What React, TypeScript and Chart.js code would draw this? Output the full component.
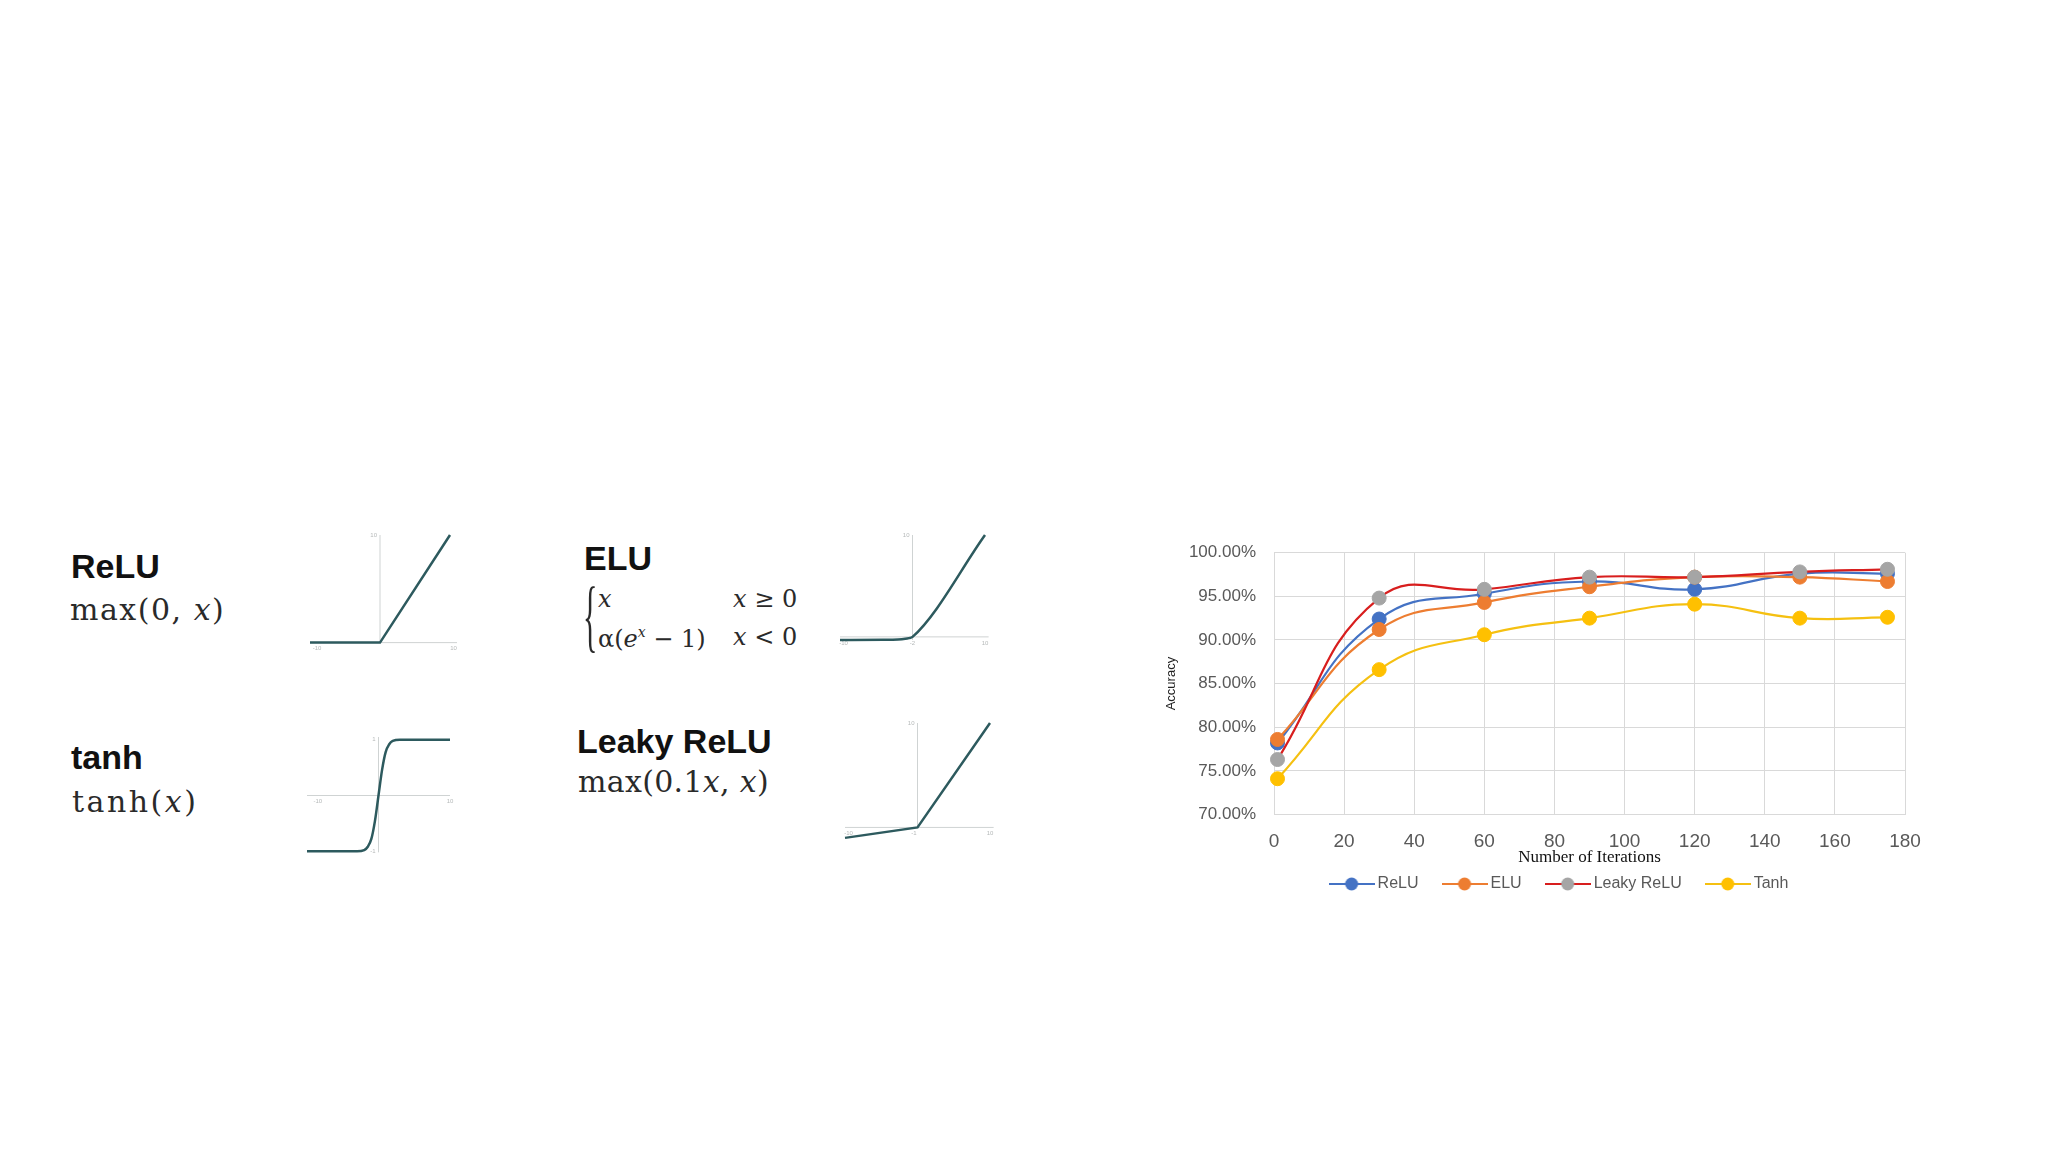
import React, { useEffect, useRef } from "react";
import { Chart, registerables } from "chart.js";
Chart.register(...registerables);

// ---------- main chart data ----------
const iterations = [1, 30, 60, 90, 120, 150, 175];
const reluAcc = [78.2, 92.4, 95.3, 96.7, 95.8, 97.6, 97.6];
const eluAcc = [78.6, 91.2, 94.3, 96.1, 97.2, 97.2, 96.7];
const leakyAcc = [76.3, 94.8, 95.8, 97.2, 97.2, 97.8, 98.1];
const tanhAcc = [74.1, 86.6, 90.6, 92.5, 94.1, 92.5, 92.6];
const seriesNames = ["ReLU", "ELU", "Leaky ReLU", "Tanh"];
const yTickLabels = ["70.00%", "75.00%", "80.00%", "85.00%", "90.00%", "95.00%", "100.00%"];
const xTickLabels = ["0", "20", "40", "60", "80", "100", "120", "140", "160", "180"];

// ---------- activation function sketches ----------
const reluX = [-10, 0, 10];
const reluY = [0, 0, 10];
const tanhX = [-10, -3, -2, -1.5, -1, -0.5, 0, 0.5, 1, 1.5, 2, 3, 10];
const tanhY = [-1, -1, -0.98, -0.92, -0.78, -0.46, 0, 0.46, 0.78, 0.92, 0.98, 1, 1];
const eluX = [-10, -4, -2, -1, -0.5, 0, 10];
const eluY = [-0.3, -0.29, -0.26, -0.19, -0.12, 0, 10];
const leakyX = [-10, 0, 10];
const leakyY = [-1, 0, 10];

const SANS = "'Liberation Sans', Arial, sans-serif";
const SERIF = "'DejaVu Serif', 'Liberation Serif', serif";

function makeLegendIcon(line: string, marker: string) {
  const c = document.createElement("canvas");
  c.width = 46;
  c.height = 14;
  const ctx = c.getContext("2d")!;
  ctx.strokeStyle = line;
  ctx.lineWidth = 2;
  ctx.beginPath();
  ctx.moveTo(0, 7);
  ctx.lineTo(46, 7);
  ctx.stroke();
  ctx.fillStyle = marker;
  ctx.beginPath();
  ctx.arc(23, 7, 6.5, 0, Math.PI * 2);
  ctx.fill();
  return c;
}

function AccuracyChart() {
  const ref = useRef<HTMLCanvasElement>(null);
  useEffect(() => {
    const lineColors = ["#4472C4", "#ED7D31", "#D81E1E", "#F5C011"];
    const markerColors = ["#4472C4", "#ED7D31", "#A5A5A5", "#FFC000"];
    const values = [reluAcc, eluAcc, leakyAcc, tanhAcc];
    const icons = values.map((_, i) => makeLegendIcon(lineColors[i], markerColors[i]));
    const datasets = values.map((vals, i) => ({
      label: seriesNames[i],
      data: vals.map((v, j) => ({ x: iterations[j], y: v })),
      borderColor: lineColors[i],
      backgroundColor: markerColors[i],
      pointBackgroundColor: markerColors[i],
      pointBorderColor: markerColors[i],
      pointRadius: 7,
      pointBorderWidth: 1,
      borderWidth: 2.2,
      tension: 0.45,
      order: 4 - i,
      yAxisID: "y",
      clip: false as any,
    }));
    const chart = new Chart(ref.current!, {
      type: "line",
      data: { datasets },
      options: {
        animation: false,
        responsive: false,
        devicePixelRatio: 1,
        layout: { padding: { left: 0, right: 0, top: 22.7, bottom: 0 } },
        plugins: {
          tooltip: { enabled: false },
          legend: {
            position: "bottom",
            labels: {
              usePointStyle: true,
              pointStyleWidth: 36,
              boxHeight: 12,
              padding: 28,
              color: "#595959",
              font: { family: SANS, size: 16 },
              generateLabels: (ch: any) =>
                ch.data.datasets.map((ds: any, i: number) => ({
                  text: ds.label,
                  pointStyle: icons[i],
                  fillStyle: markerColors[i],
                  strokeStyle: lineColors[i],
                  lineWidth: 0,
                  hidden: false,
                  datasetIndex: i,
                  fontColor: "#595959",
                })),
            },
          },
        },
        scales: {
          x: {
            type: "linear",
            min: 0,
            max: 180,
            ticks: {
              stepSize: 20,
              color: "#595959",
              font: { family: SANS, size: 19 },
              padding: 16,
              maxRotation: 0,
              callback: (_v: any, i: number) => xTickLabels[i],
            },
            grid: { color: "#d9d9d9", drawTicks: false },
            border: { color: "#d9d9d9" },
            title: {
              display: true,
              text: "Number of Iterations",
              color: "#111",
              font: { family: "'Liberation Serif', serif", size: 17 },
              padding: { top: 0, bottom: -20.2 },
            },
            afterFit: (s: any) => {
              s.height = 33.5;
            },
          },
          y: {
            min: 70,
            max: 100,
            ticks: {
              stepSize: 5,
              color: "#595959",
              font: { family: SANS, size: 17 },
              padding: 11,
              callback: (_v: any, i: number) => yTickLabels[i],
            },
            grid: { color: "#d9d9d9", drawTicks: true, tickLength: 7, tickColor: "rgba(0,0,0,0)" },
            border: { color: "#d9d9d9" },
            title: {
              display: true,
              text: "Accuracy",
              color: "#222",
              font: { family: SANS, size: 13 },
              padding: { top: 0, bottom: 0 },
            },
            afterFit: (s: any) => {
              s.width = 110;
            },
          },
          yRightSpace: {
            type: "linear",
            position: "right",
            min: 0,
            max: 1,
            grid: { display: false, drawTicks: false },
            border: { display: false },
            ticks: { display: false },
            afterFit: (s: any) => {
              s.width = 53;
            },
          },
        },
      } as any,
    });
    return () => chart.destroy();
  }, []);
  return (
    <canvas
      ref={ref}
      width={794}
      height={372}
      style={{ position: "absolute", left: 1164, top: 530, width: 794, height: 372 }}
    />
  );
}

const crossAxes = {
  id: "crossAxes",
  beforeDatasetsDraw(chart: any) {
    const o = chart.options.plugins.crossAxes;
    const { ctx, scales } = chart;
    const x = scales.x;
    const y = scales.y;
    const x0 = x.getPixelForValue(0);
    const y0 = y.getPixelForValue(0);
    ctx.save();
    ctx.strokeStyle = "#cfd3d3";
    ctx.lineWidth = 1;
    ctx.beginPath();
    ctx.moveTo(x.getPixelForValue(o.xAxis[0]), y0);
    ctx.lineTo(x.getPixelForValue(o.xAxis[1]), y0);
    ctx.moveTo(x0, y.getPixelForValue(o.yAxis[0]));
    ctx.lineTo(x0, y.getPixelForValue(o.yAxis[1]));
    ctx.stroke();
    ctx.fillStyle = "#b5b9b9";
    ctx.font = "6px " + SANS;
    ctx.textAlign = "center";
    ctx.textBaseline = "top";
    o.xLabels.forEach((t: string, i: number) => {
      ctx.fillText(t, x.getPixelForValue(o.xLabelAt[i]), y0 + 3);
    });
    ctx.textAlign = "right";
    ctx.textBaseline = "middle";
    o.yLabels.forEach((t: string, i: number) => {
      ctx.fillText(t, x0 - 3, y.getPixelForValue(o.yLabelAt[i]));
    });
    ctx.restore();
  },
};

type MiniProps = {
  xs: number[];
  ys: number[];
  area: { left: number; top: number; right: number; bottom: number };
  xRange: [number, number];
  yRange: [number, number];
  xAxis: [number, number];
  yAxis: [number, number];
  xLabels: string[];
  xLabelAt: number[];
  yLabels: string[];
  yLabelAt: number[];
  smooth?: boolean;
};

function MiniPlot(p: MiniProps) {
  const ref = useRef<HTMLCanvasElement>(null);
  const pad = 14;
  const w = p.area.right - p.area.left + pad * 2;
  const h = p.area.bottom - p.area.top + pad * 2;
  useEffect(() => {
    const chart = new Chart(ref.current!, {
      type: "line",
      data: {
        datasets: [
          {
            data: p.xs.map((x, i) => ({ x, y: p.ys[i] })),
            borderColor: "#2d5a5e",
            borderWidth: 2.5,
            pointRadius: 0,
            cubicInterpolationMode: p.smooth ? "monotone" : "default",
            tension: 0,
            clip: false as any,
          },
        ],
      },
      options: {
        animation: false,
        responsive: false,
        devicePixelRatio: 1,
        layout: { padding: pad },
        plugins: {
          legend: { display: false },
          tooltip: { enabled: false },
          crossAxes: {
            xAxis: p.xAxis,
            yAxis: p.yAxis,
            xLabels: p.xLabels,
            xLabelAt: p.xLabelAt,
            yLabels: p.yLabels,
            yLabelAt: p.yLabelAt,
          },
        },
        scales: {
          x: { type: "linear", display: false, min: p.xRange[0], max: p.xRange[1] },
          y: { type: "linear", display: false, min: p.yRange[0], max: p.yRange[1] },
        },
      } as any,
      plugins: [crossAxes],
    });
    return () => chart.destroy();
  }, []);
  return (
    <canvas
      ref={ref}
      width={w}
      height={h}
      style={{ position: "absolute", left: p.area.left - pad, top: p.area.top - pad, width: w, height: h }}
    />
  );
}

function Txt(props: {
  x: number;
  base: number;
  size: number;
  bold?: boolean;
  serif?: boolean;
  spacing?: number;
  children: any;
  color?: string;
}) {
  const top = props.base - 0.846 * props.size;
  return (
    <div
      style={{
        position: "absolute",
        left: props.x,
        top,
        fontSize: props.size,
        lineHeight: 1,
        fontFamily: props.serif ? SERIF : SANS,
        fontWeight: props.bold ? 700 : 400,
        letterSpacing: props.spacing || 0,
        color: props.color || (props.bold ? "#111" : "#2a2a2a"),
        whiteSpace: "nowrap",
      }}
    >
      {props.children}
    </div>
  );
}

const I = (s: string) => <span style={{ fontStyle: "italic" }}>{s}</span>;

export default function App() {
  return (
    <div
      style={{
        position: "absolute",
        left: 0,
        top: 0,
        width: 2048,
        height: 1152,
        background: "#ffffff",
        overflow: "hidden",
      }}
    >
      {/* ReLU */}
      <Txt x={71} base={578} size={34} bold>ReLU</Txt>
      <Txt x={70} base={620} size={30} serif spacing={1.5}>max(0, {I("x")})</Txt>
      <MiniPlot
        xs={reluX}
        ys={reluY}
        area={{ left: 310, top: 535, right: 450, bottom: 648 }}
        xRange={[-10, 10]}
        yRange={[-0.5, 10]}
        xAxis={[-10, 11]}
        yAxis={[0, 10]}
        xLabels={["-10", "10"]}
        xLabelAt={[-9, 10.5]}
        yLabels={["10"]}
        yLabelAt={[10]}
      />

      {/* tanh */}
      <Txt x={71} base={769} size={34} bold>tanh</Txt>
      <Txt x={72} base={812} size={30} serif spacing={2.5}>tanh({I("x")})</Txt>
      <MiniPlot
        xs={tanhX}
        ys={tanhY}
        area={{ left: 307, top: 737, right: 450, bottom: 854 }}
        xRange={[-10, 10]}
        yRange={[-1.05, 1.05]}
        xAxis={[-10, 10]}
        yAxis={[-1.02, 1.05]}
        xLabels={["-10", "10"]}
        xLabelAt={[-8.5, 10]}
        yLabels={["1", "-1"]}
        yLabelAt={[1, -1]}
        smooth
      />

      {/* ELU */}
      <Txt x={584} base={570} size={34} bold>ELU</Txt>
      <div
        style={{
          position: "absolute",
          left: 583,
          top: 598.5,
          fontSize: 40,
          lineHeight: 1,
          fontFamily: "'Liberation Serif', serif",
          color: "#2a2a2a",
          transformOrigin: "0 23.5px",
          transform: "scale(0.75, 2)",
        }}
      >
        {"{"}
      </div>
      <Txt x={598} base={607} size={24} serif>{I("x")}</Txt>
      <Txt x={733} base={607} size={24} serif>{I("x")} ≥ 0</Txt>
      <Txt x={598} base={645} size={24} serif>
        α({I("e")}
        <sup style={{ fontSize: 14, fontStyle: "italic", verticalAlign: 10 }}>x</sup> − 1)
      </Txt>
      <Txt x={733} base={645} size={24} serif>{I("x")} &lt; 0</Txt>
      <MiniPlot
        xs={eluX}
        ys={eluY}
        area={{ left: 840, top: 535, right: 985, bottom: 643 }}
        xRange={[-10, 10]}
        yRange={[-0.6, 10]}
        xAxis={[-10, 10.5]}
        yAxis={[-0.3, 10]}
        xLabels={["-10", "-2", "10"]}
        xLabelAt={[-9.5, 0, 10]}
        yLabels={["10"]}
        yLabelAt={[10]}
        smooth
      />

      {/* Leaky ReLU */}
      <Txt x={577} base={753} size={34} bold>Leaky ReLU</Txt>
      <Txt x={578} base={792} size={30} serif spacing={0.3}>max(0.1{I("x")}, {I("x")})</Txt>
      <MiniPlot
        xs={leakyX}
        ys={leakyY}
        area={{ left: 845, top: 723, right: 990, bottom: 841 }}
        xRange={[-10, 10]}
        yRange={[-1.3, 10]}
        xAxis={[-10, 10.5]}
        yAxis={[0, 10]}
        xLabels={["-10", "-1", "10"]}
        xLabelAt={[-9.5, -0.5, 10]}
        yLabels={["10"]}
        yLabelAt={[10]}
      />

      <AccuracyChart />
    </div>
  );
}
